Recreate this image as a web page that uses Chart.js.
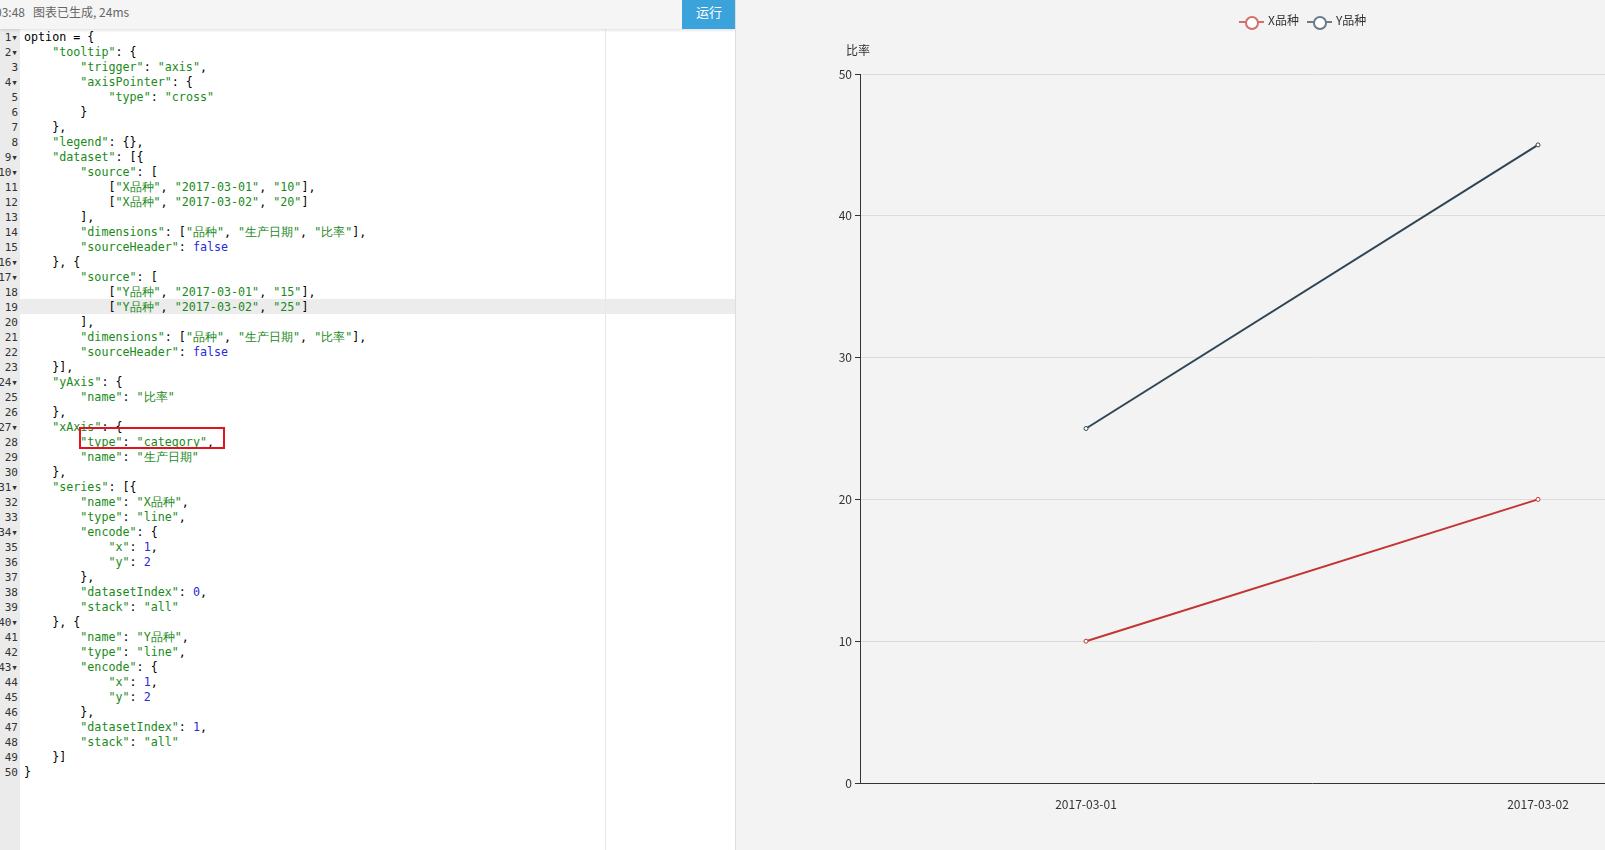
<!DOCTYPE html>
<html><head><meta charset="utf-8">
<script src="https://cdn.jsdelivr.net/npm/chart.js@4"></script>
<style>
body{margin:0;width:1605px;height:850px;overflow:hidden;font-family:"Noto Sans CJK SC","Noto Sans",sans-serif;background:#fff}
#left{position:absolute;left:0;top:0;width:735px;height:850px;overflow:hidden;border-right:1px solid #ddd}
#bar{position:absolute;left:0;top:0;width:735px;height:29px;background:#f5f5f5;box-shadow:0 1px 3px rgba(0,0,0,.15);z-index:2;font-size:12px;color:#666;line-height:24px}
#bar span{position:absolute;left:-5px}
#run{position:absolute;left:682px;top:0;width:54px;height:29px;background:#3ba3dc;color:#fff;font-size:13px;text-align:center;line-height:23px;z-index:3}
#gutter{position:absolute;left:0;top:29px;width:20px;height:821px;background:#ebebeb;overflow:hidden}
#code{position:absolute;left:24px;top:30px;font-family:"DejaVu Sans Mono",monospace;font-size:11.7px;line-height:15px;white-space:pre;color:#000}
.ln{position:absolute;right:2px;font-family:"DejaVu Sans Mono",monospace;font-size:11px;color:#333;white-space:nowrap}
.s{color:#1a8a1a}.n{color:#2a2ad8}
#hl{position:absolute;left:20px;top:299px;width:715px;height:15px;background:#ececec}
#margin{position:absolute;left:605px;top:29px;width:1px;height:821px;background:#e8e8e8}
#box{position:absolute;left:79px;top:427px;width:142px;height:18px;border:2px solid #e0141e}
#right{position:absolute;left:736px;top:0;width:869px;height:850px;background:#f3f3f3;overflow:hidden}
#wrap{position:absolute;left:0;top:0;width:1154px;height:850px}
#legend{position:absolute;left:503px;top:11px;font-size:12px;color:#333;white-space:nowrap}
#legend i{display:inline-block;position:relative;width:25px;height:14px;vertical-align:middle;margin-right:4px}
#legend i:before{content:"";position:absolute;left:0;top:6px;width:25px;height:2px;background:currentColor}
#legend i:after{content:"";position:absolute;left:6px;top:1px;width:10px;height:10px;border-radius:50%;background:#fff;border:2px solid currentColor}
#legend b{font-weight:normal;color:#333}
#yname{position:absolute;left:110px;top:41px;font-size:12px;color:#333}
</style></head><body>
<div id="left">
<div id="bar"><span>03:48 &nbsp;&nbsp;图表已生成, 24ms</span></div>
<div id="run">运行</div>
<div id="gutter"></div>
<div id="hl"></div>
<div id="margin"></div>
<div id="code"></div>
<div id="box"></div>
</div>
<div id="right"><div id="wrap">
<div id="legend"><i style="color:#d36f6c"></i><b>X品种</b> &nbsp;&nbsp;<i style="color:#6a7d8c"></i><b>Y品种</b></div>
<div id="yname">比率</div>
<canvas id="c"></canvas>
</div></div>
<script>
// chart data
const categories = ['2017-03-01', '2017-03-02'];
const xSeries = [10, 20];
const ySeries = [15, 25];
const seriesNames = ['X品种', 'Y品种'];
const yTicks = [0, 10, 20, 30, 40, 50];

// code panel text
const codeLines = [
'option = {',
'    "tooltip": {',
'        "trigger": "axis",',
'        "axisPointer": {',
'            "type": "cross"',
'        }',
'    },',
'    "legend": {},',
'    "dataset": [{',
'        "source": [',
'            ["X品种", "2017-03-01", "10"],',
'            ["X品种", "2017-03-02", "20"]',
'        ],',
'        "dimensions": ["品种", "生产日期", "比率"],',
'        "sourceHeader": false',
'    }, {',
'        "source": [',
'            ["Y品种", "2017-03-01", "15"],',
'            ["Y品种", "2017-03-02", "25"]',
'        ],',
'        "dimensions": ["品种", "生产日期", "比率"],',
'        "sourceHeader": false',
'    }],',
'    "yAxis": {',
'        "name": "比率"',
'    },',
'    "xAxis": {',
'        "type": "category",',
'        "name": "生产日期"',
'    },',
'    "series": [{',
'        "name": "X品种",',
'        "type": "line",',
'        "encode": {',
'            "x": 1,',
'            "y": 2',
'        },',
'        "datasetIndex": 0,',
'        "stack": "all"',
'    }, {',
'        "name": "Y品种",',
'        "type": "line",',
'        "encode": {',
'            "x": 1,',
'            "y": 2',
'        },',
'        "datasetIndex": 1,',
'        "stack": "all"',
'    }]',
'}'
];
const folds = [1,2,4,9,10,16,17,24,27,31,34,40,43];

function esc(s) { return s.replace(/&/g,'&amp;').replace(/</g,'&lt;'); }
document.getElementById('code').innerHTML = codeLines.map(function(l) {
    return esc(l).replace(/("[^"]*")|\b(false|\d+)\b/g, function(m, str, num) {
        return str ? '<span class="s">' + str + '</span>' : '<span class="n">' + num + '</span>';
    });
}).join('\n');
const gutter = document.getElementById('gutter');
codeLines.forEach(function(l, i) {
    const d = document.createElement('div');
    d.className = 'ln';
    d.style.top = (1 + i * 15) + 'px';
    d.style.lineHeight = '15px';
    d.textContent = (i + 1) + (folds.indexOf(i + 1) >= 0 ? '▾' : ' ');
    gutter.appendChild(d);
});

const c = document.getElementById('c');
c.width = 1154; c.height = 850;
new Chart(c.getContext('2d'), {
    type: 'line',
    data: {
        labels: categories,
        datasets: [
            { label: seriesNames[0], data: xSeries, borderColor: '#c23531', backgroundColor: '#fff',
              borderWidth: 2, pointRadius: 2, pointBorderWidth: 1, pointBorderColor: '#c23531', tension: 0 },
            { label: seriesNames[1], data: ySeries, borderColor: '#2f4554', backgroundColor: '#fff',
              borderWidth: 2, pointRadius: 2, pointBorderWidth: 1, pointBorderColor: '#2f4554', tension: 0 }
        ]
    },
    options: {
        responsive: false,
        animation: false,
        layout: { padding: { top: 74, right: 126, left: 0, bottom: 0 } },
        plugins: { legend: { display: false }, tooltip: { enabled: false } },
        scales: {
            x: {
                offset: true,
                grid: { display: false, offset: true, drawTicks: true },
                border: { color: '#333', width: 1 },
                ticks: { color: '#333', font: { size: 12, family: 'Noto Sans CJK SC' }, padding: 6 },
                afterFit: function(s) { s.height = 67; }
            },
            y: {
                stacked: true,
                min: 0, max: 50,
                afterBuildTicks: function(s) { s.ticks = yTicks.map(function(v) { return { value: v }; }); },
                grid: { color: '#dcdcdc', tickLength: 5, tickColor: '#333' },
                border: { color: '#333', width: 1 },
                ticks: { color: '#333', font: { size: 12, family: 'Noto Sans CJK SC' }, padding: 3 },
                afterFit: function(s) { s.width = 124; }
            }
        }
    }
});
</script>
</body></html>
